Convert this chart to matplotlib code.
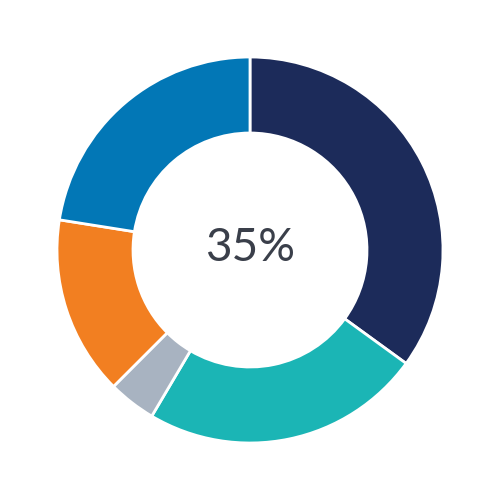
import matplotlib
matplotlib.use("Agg")
import matplotlib.pyplot as plt

labels = ["A", "B", "C", "D", "E"]
values = [35, 23.5, 4, 15, 22.5]
colors = ["#1c2b5a", "#1bb5b5", "#a8b3c1", "#f27f21", "#0277b6"]
center_label = "35%"

fig = plt.figure(figsize=(5, 5), dpi=100)
ax = fig.add_axes([0, 0, 1, 1])
ax.pie(values, colors=colors, startangle=90, counterclock=False, radius=1,
       wedgeprops=dict(width=76/193, edgecolor="white", linewidth=2))
lim = 250/193
ax.set_xlim(-lim, lim)
ax.set_ylim(-lim, lim)
ax.set_aspect("equal")
ax.axis("off")
ax.text(0, 0.01, center_label, ha="center", va="center", fontsize=33,
        family="Lato", fontweight="normal", color="#3a3f4a")
fig.savefig("out.png", dpi=100)
